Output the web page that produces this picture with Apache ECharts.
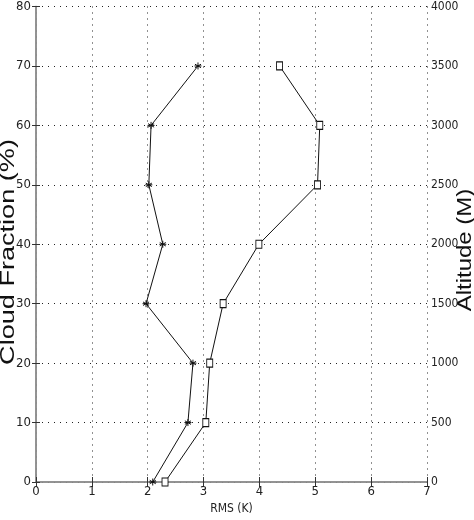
<!DOCTYPE html>
<html>
<head>
<meta charset="utf-8">
<script src="https://cdn.jsdelivr.net/npm/echarts@6/dist/echarts.min.js"></script>
<style>
html,body{margin:0;padding:0;background:#fff;}
#chart{width:474px;height:520px;}
</style>
</head>
<body>
<div id="chart"></div>
<script>
// Data
var cloudFraction = [0, 10, 20, 30, 40, 50, 60, 70];
var rmsStar   = [2.09, 2.72, 2.81, 1.97, 2.27, 2.02, 2.06, 2.90];
var rmsSquare = [2.31, 3.04, 3.11, 3.35, 3.99, 5.04, 5.08, 4.36];
var xTicks = [0, 1, 2, 3, 4, 5, 6, 7];
var leftTicks = [0, 10, 20, 30, 40, 50, 60, 70, 80];
var rightTicks = [0, 500, 1000, 1500, 2000, 2500, 3000, 3500, 4000];

var FONT = "'DejaVu Sans Condensed', 'Liberation Sans', sans-serif";
var AXIS_COLOR = '#8c8c8c';
var LABEL_COLOR = '#222';

function pairs(xs, ys) { return xs.map(function (x, i) { return [x, ys[i]]; }); }

var chart = echarts.init(document.getElementById('chart'));
var starPath = 'path://M0,-10L0,10M-8.66,-5L8.66,5M-8.66,5L8.66,-5M-10,0L10,0';

chart.setOption({
  backgroundColor: '#fff',
  animation: false,
  grid: { left: 36, right: 47, top: 5, bottom: 36 },
  xAxis: [{
    type: 'value', min: xTicks[0], max: xTicks[xTicks.length - 1], interval: 1,
    position: 'bottom',
    name: 'RMS (K)', nameLocation: 'middle', nameGap: 21,
    nameTextStyle: { fontFamily: FONT, fontSize: 12, color: LABEL_COLOR },
    axisLine: { lineStyle: { color: AXIS_COLOR, width: 1.5 } },
    axisTick: { inside: true, length: 5, lineStyle: { color: '#333' } },
    axisLabel: { fontFamily: FONT, fontSize: 13, color: LABEL_COLOR, margin: 3 },
    splitLine: { show: true, lineStyle: { color: '#222', type: [1, 5], width: 1 } }
  }, {
    type: 'value', min: xTicks[0], max: xTicks[xTicks.length - 1], interval: 1,
    position: 'top',
    axisLine: { show: true, lineStyle: { color: AXIS_COLOR, width: 1.5 } },
    axisTick: { show: true, inside: true, length: 5, lineStyle: { color: '#333' } },
    axisLabel: { show: false },
    splitLine: { show: false }
  }],
  yAxis: [{
    type: 'value', min: leftTicks[0], max: leftTicks[leftTicks.length - 1], interval: 10,
    position: 'left',
    axisLine: { show: true, lineStyle: { color: AXIS_COLOR, width: 1.5 } },
    axisTick: { show: true, inside: true, length: 4, lineStyle: { color: '#333' } },
    axisLabel: { fontFamily: FONT, fontSize: 13, color: LABEL_COLOR, margin: 5 },
    splitLine: { show: true, lineStyle: { color: '#222', type: [1, 5], width: 1 } }
  }, {
    type: 'value', min: rightTicks[0], max: rightTicks[rightTicks.length - 1], interval: 500,
    position: 'right',
    axisLine: { show: true, lineStyle: { color: AXIS_COLOR, width: 1.5 } },
    axisTick: { show: true, inside: true, length: 4, lineStyle: { color: '#333' } },
    axisLabel: { fontFamily: FONT, fontSize: 12, color: LABEL_COLOR, margin: 4,
                 formatter: function (v) { return String(v); } },
    splitLine: { show: false }
  }],
  graphic: [{
    type: 'text', x: 8, y: 252, rotation: Math.PI / 2, scaleX: 1.29, scaleY: 1,
    style: { text: 'Cloud Fraction (%)', fontFamily: "'Liberation Sans', Arial, sans-serif",
             fontSize: 21, fill: '#111', align: 'center', verticalAlign: 'middle' }
  }, {
    type: 'text', x: 465, y: 250, rotation: Math.PI / 2, scaleX: 1.2, scaleY: 1,
    style: { text: 'Altitude (M)', fontFamily: "'Liberation Sans', Arial, sans-serif",
             fontSize: 20, fill: '#111', align: 'center', verticalAlign: 'middle' }
  }],
  series: [{
    type: 'line', xAxisIndex: 0, yAxisIndex: 0,
    data: pairs(rmsStar, cloudFraction),
    symbol: starPath, symbolSize: 7, showAllSymbol: true,
    lineStyle: { color: '#111', width: 1 },
    itemStyle: { color: 'none', borderColor: '#111', borderWidth: 1 }
  }, {
    type: 'line', xAxisIndex: 0, yAxisIndex: 0,
    data: pairs(rmsSquare, cloudFraction),
    symbol: 'rect', symbolSize: [6, 8], showAllSymbol: true,
    lineStyle: { color: '#111', width: 1 },
    itemStyle: { color: '#fff', borderColor: '#111', borderWidth: 1 }
  }]
});
</script>
</body>
</html>
